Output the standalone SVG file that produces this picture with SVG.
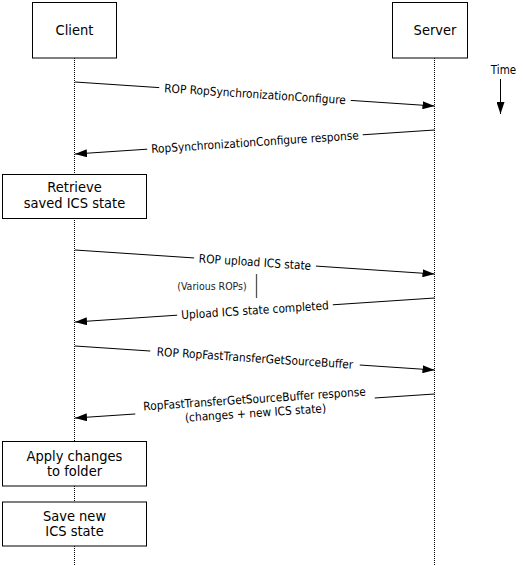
<svg xmlns="http://www.w3.org/2000/svg" width="523" height="565" viewBox="0 0 523 565">
<style>
text{font-family:"DejaVu Sans Condensed","DejaVu Sans",Verdana,sans-serif;font-stretch:condensed;fill:#000}
.box{fill:#fff;stroke:#000;stroke-width:1}
.bt{font-size:14.5px;text-anchor:middle}
.lt{font-size:11.8px;text-anchor:middle}
.life{stroke:#000;stroke-width:1;stroke-dasharray:1 1;fill:none}
.msg{stroke:#000;stroke-width:1;fill:none;marker-end:url(#ah)}
.bg{fill:#fff}
</style>
<defs>
<marker id="ah" markerUnits="userSpaceOnUse" markerWidth="12" markerHeight="8" refX="12" refY="4" orient="auto">
<path d="M0,0 L12,4 L0,8 z" fill="#000"/>
</marker>
</defs>
<g id="lifelines">
<line class="life" x1="74.5" y1="58" x2="74.5" y2="565"/>
<line class="life" x1="434.5" y1="58" x2="434.5" y2="565"/>
</g>
<g id="client">
<rect class="box" x="32.5" y="2.5" width="84" height="55.5"/>
<text class="bt" x="74.5" y="35">Client</text>
</g>
<g id="server">
<rect class="box" x="392.5" y="2.5" width="75" height="55.5"/>
<text class="bt" x="435" y="35">Server</text>
</g>
<g id="time">
<text x="503.5" y="74" style="font-size:11.5px;text-anchor:middle">Time</text>
<line x1="500.5" y1="79" x2="500.5" y2="114" stroke="#000" stroke-width="1" style="marker-end:url(#ah)"/>
</g>
<g id="retrieve">
<rect class="box" x="2.5" y="174.5" width="144" height="44"/>
<text class="bt" x="74.5" y="192">Retrieve</text>
<text class="bt" x="74.5" y="208">saved ICS state</text>
</g>
<g id="apply">
<rect class="box" x="2.5" y="441.5" width="144" height="44.5"/>
<text class="bt" x="74.5" y="461">Apply changes</text>
<text class="bt" x="74.5" y="476">to folder</text>
</g>
<g id="save">
<rect class="box" x="2.5" y="502" width="144" height="44"/>
<text class="bt" x="74.5" y="521">Save new</text>
<text class="bt" x="74.5" y="536">ICS state</text>
</g>
<g id="connectors">
<line class="msg" x1="75" y1="82" x2="434.5" y2="106"/>
<g transform="translate(255,94) rotate(3.81)"><rect class="bg" x="-96" y="-7" width="192" height="14"/><text class="lt" y="4.2">ROP RopSynchronizationConfigure</text></g>
<line class="msg" x1="434.5" y1="130" x2="75" y2="154"/>
<g transform="translate(255,142) rotate(-3.81)"><rect class="bg" x="-108" y="-7" width="216" height="14"/><text class="lt" y="4.2">RopSynchronizationConfigure response</text></g>
<line class="msg" x1="75" y1="250" x2="434.5" y2="274"/>
<g transform="translate(255,262) rotate(3.81)"><rect class="bg" x="-61" y="-7" width="122" height="14"/><text class="lt" y="4.2">ROP upload ICS state</text></g>
<line x1="256.5" y1="274" x2="256.5" y2="298" stroke="#555" stroke-width="1.3"/>
<text x="212" y="290" style="font-size:10.5px;text-anchor:middle;fill:#222">(Various ROPs)</text>
<line class="msg" x1="434.5" y1="298" x2="75" y2="322"/>
<g transform="translate(255,310) rotate(-3.81)"><rect class="bg" x="-78" y="-7" width="156" height="14"/><text class="lt" y="4.2">Upload ICS state completed</text></g>
<line class="msg" x1="75" y1="346" x2="434.5" y2="370"/>
<g transform="translate(255,358) rotate(3.81)"><rect class="bg" x="-105" y="-7" width="210" height="14"/><text class="lt" y="4.2">ROP RopFastTransferGetSourceBuffer</text></g>
<line class="msg" x1="434.5" y1="394" x2="75" y2="418"/>
<g transform="translate(255,406) rotate(-3.81)"><rect class="bg" x="-120" y="-14" width="240" height="28"/><text class="lt" y="-3">RopFastTransferGetSourceBuffer response</text><text class="lt" y="11">(changes + new ICS state)</text></g>
</g>
</svg>
